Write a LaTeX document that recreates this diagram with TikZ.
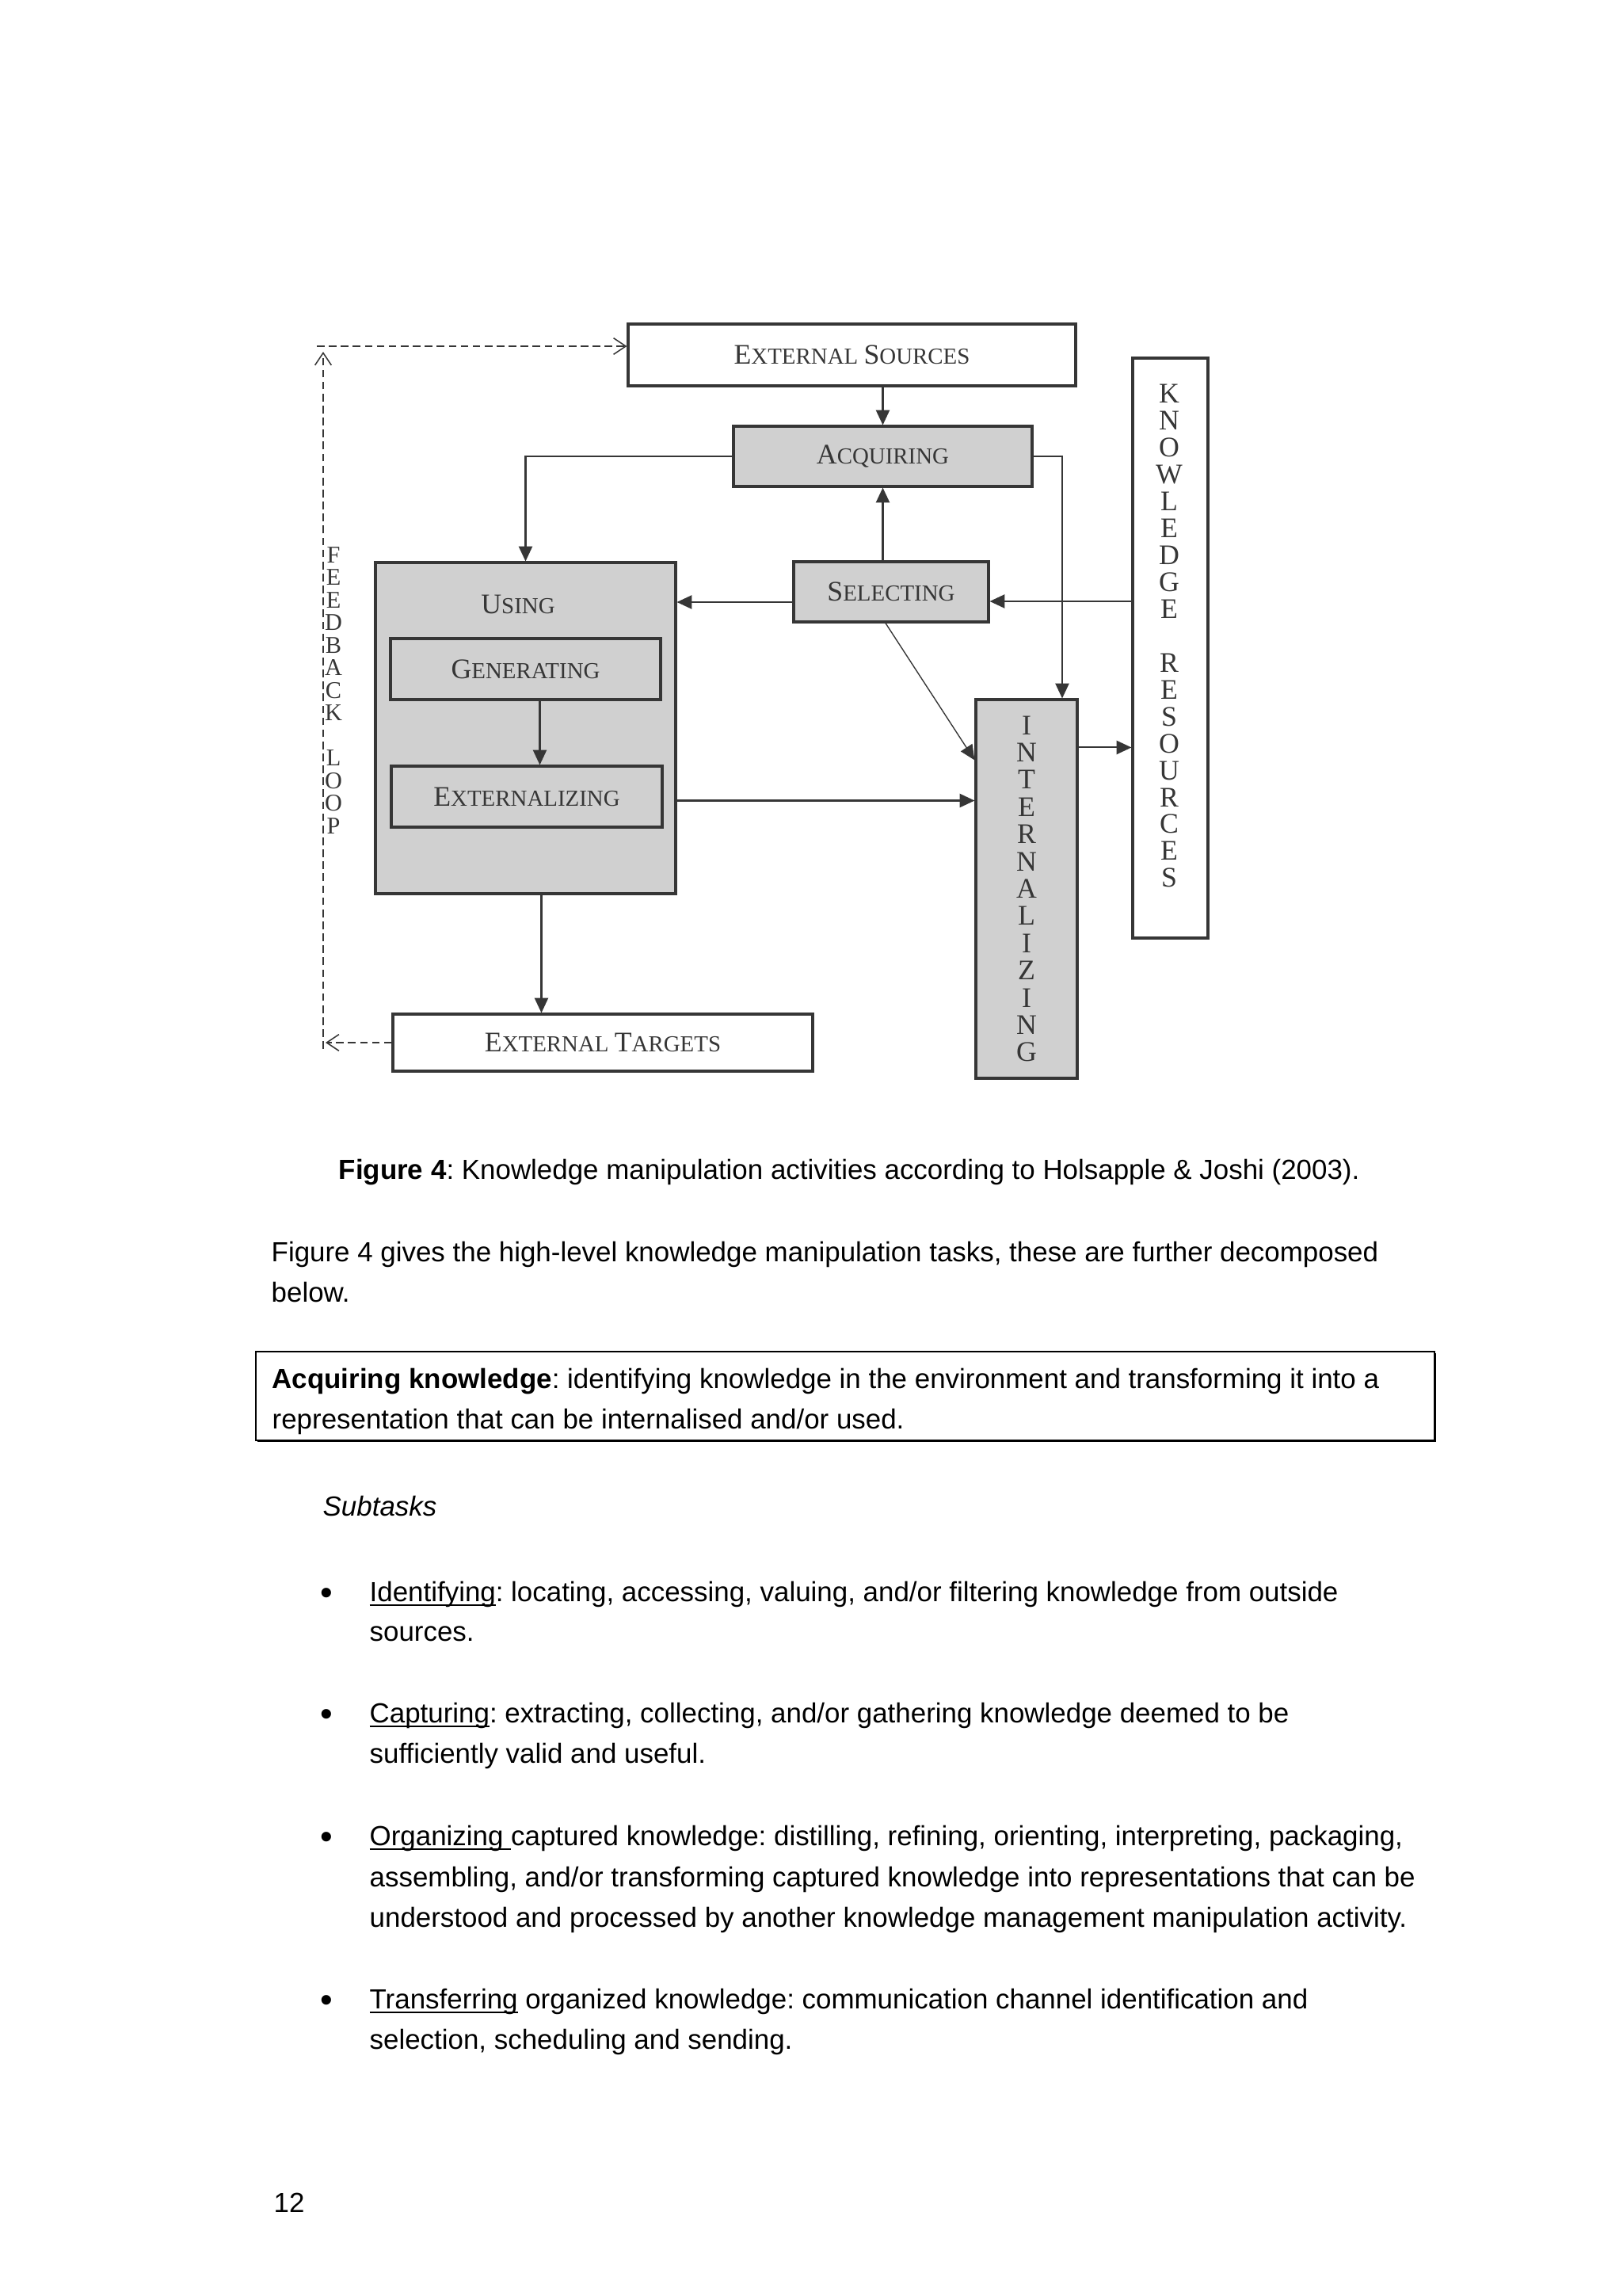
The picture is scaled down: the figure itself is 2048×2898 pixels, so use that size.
\documentclass[tikz,border=0pt]{standalone}
\usepackage{fontspec}
\setmainfont{Liberation Serif}
\newfontfamily\arial{Liberation Sans}
\usetikzlibrary{arrows.meta}
\frenchspacing
\newdimen\pxu \pxu=0.29067pt
\definecolor{ink}{HTML}{363636}
\definecolor{boxfill}{HTML}{D0D0D0}
\newcommand\SC[2]{{\fontsize{10.4}{12}\selectfont #1}{\fontsize{8.4}{10}\selectfont #2}}
\newcommand\ulx[1]{\setbox0\hbox{#1}\rlap{\rule[-1.7pt]{\wd0}{0.45pt}}\box0\relax}
\newcommand\bul{{\fontsize{13}{13}\selectfont\raisebox{-1.4pt}{•}}}
\tikzset{
 graybox/.style={draw=ink, fill=boxfill, line width=0.9pt, inner sep=0pt, text=ink, font=\fontsize{8.4}{10}\selectfont},
 whitebox/.style={draw=ink, fill=white, line width=0.9pt, inner sep=0pt, text=ink, font=\fontsize{8.4}{10}\selectfont},
 lbl/.style={inner sep=0pt, text=ink, font=\fontsize{8.4}{10}\selectfont},
 arr/.style={draw=ink, line width=0.6pt, -{Triangle[length=5.5pt,width=5pt]}},
 thinarr/.style={arr, line width=0.4pt},
 fbarr/.style={draw=ink, line width=0.45pt, dash pattern=on 2.8pt off 1.6pt, -{Straight Barb[length=4.5pt,width=6pt]}},
 body/.style={anchor=base west, inner sep=0pt, font=\arial\fontsize{10.15}{12}\selectfont, text=black},
}
\begin{document}
\begin{tikzpicture}[x=0.29067pt,y=-0.29067pt]
\fill[white] (0,0) rectangle (2048,2898);
\useasboundingbox (0,0) rectangle (2048,2898);

% ---------- diagram boxes ----------
\node[whitebox, minimum width=565\pxu, minimum height=78\pxu] (ExtSources) at (1075.5,448) {\SC{E}{XTERNAL} \SC{S}{OURCES}};
\node[graybox, minimum width=377\pxu, minimum height=76\pxu] (Acquiring) at (1114.5,576) {\SC{A}{CQUIRING}};
\node[graybox, minimum width=379\pxu, minimum height=418\pxu] (Using) at (663.5,919) {};
\node[lbl] (UsingLbl) at (654,763) {\SC{U}{SING}};
\node[graybox, minimum width=341\pxu, minimum height=77\pxu] (Generating) at (663.5,844.5) {\SC{G}{ENERATING}};
\node[graybox, minimum width=342\pxu, minimum height=77\pxu] (Externalizing) at (665,1005.5) {\SC{E}{XTERNALIZING}};
\node[graybox, minimum width=246\pxu, minimum height=76\pxu] (Selecting) at (1125,747) {\SC{S}{ELECTING}};
\node[graybox, minimum width=128\pxu, minimum height=478\pxu, align=center, font=\fontsize{10.4}{10.0}\selectfont] (Internalizing) at (1296,1122)
  {I\\N\\T\\E\\R\\N\\A\\L\\I\\Z\\I\\N\\G};
\node[whitebox, minimum width=530\pxu, minimum height=72\pxu] (ExtTargets) at (761,1316) {\SC{E}{XTERNAL} \SC{T}{ARGETS}};
\node[whitebox, minimum width=95\pxu, minimum height=732\pxu] (KR) at (1477.5,818) {};
\node[lbl, align=center, font=\fontsize{10.4}{9.88}\selectfont] (KRlbl) at (1476,802.5)
  {K\\N\\O\\W\\L\\E\\D\\G\\E\\[9.88pt]R\\E\\S\\O\\U\\R\\C\\E\\S};
\node[lbl, align=center, font=\fontsize{8.8}{8.28}\selectfont] (FBlbl) at (421,871.5)
  {F\\E\\E\\D\\B\\A\\C\\K\\[8.28pt]L\\O\\O\\P};

% ---------- helper coordinates ----------
\coordinate (selR) at ([yshift=-12\pxu]Selecting.east);
\coordinate (selL) at ([yshift=-13\pxu]Selecting.west);
\coordinate (acqR) at ([xshift=45\pxu]Internalizing.north);
\coordinate (genB) at ([xshift=18\pxu]Generating.south);
\coordinate (extR) at ([yshift=-5\pxu]Externalizing.east);
\coordinate (selB) at ([xshift=-7\pxu]Selecting.south);
\coordinate (intD) at ([yshift=-78\pxu]Internalizing.north west);
\coordinate (intR) at ([yshift=-62\pxu]Internalizing.north east);
\coordinate (useB) at ([xshift=20\pxu]Using.south);
\coordinate (fbB) at (411,1313);
\coordinate (fbLow) at (408,1324);
\coordinate (fbHigh) at (408,444);
\coordinate (fbStart) at (400,437);

% ---------- connectors ----------
\draw[arr] (ExtSources.south -| Acquiring.north) -- (Acquiring.north);
\draw[arr] (Acquiring.west) -| (Using.north);
\draw[arr] (Acquiring.east) -| (acqR);
\draw[arr] (Selecting.north -| Acquiring.south) -- (Acquiring.south);
\draw[arr] (selR -| KR.west) -- (selR);
\draw[arr] (selL) -- (selL -| Using.east);
\draw[arr] (genB) -- (genB |- Externalizing.north);
\draw[arr] (extR -| Using.east) -- (extR -| Internalizing.west);
\draw[thinarr] (selB) -- (intD);
\draw[arr] (intR) -- (intR -| KR.west);
\draw[arr] (useB) -- (useB |- ExtTargets.north);
\draw[fbarr] (ExtTargets.west) -- (ExtTargets.west -| fbB);
\draw[fbarr] (fbLow) -- (fbHigh);
\draw[fbarr] (fbStart) -- (fbStart -| ExtSources.west);

% ---------- page text ----------
\node[body] (cap) at (427,1488) {\textbf{Figure 4}: Knowledge manipulation activities according to Holsapple \& Joshi (2003).};
\node[body] (p1) at (342,1592) {Figure 4 gives the high-level knowledge manipulation tasks, these are further decomposed};
\node[body] (p2) at (342,1643) {below.};

\coordinate (frameTL) at (323,1706);
\coordinate (frameBR) at (1811,1818);
\fill[black] ([xshift=2.2\pxu,yshift=-2.2\pxu]frameTL) rectangle ([xshift=2.2\pxu,yshift=-2.2\pxu]frameBR);
\draw[black, fill=white, line width=0.5pt] (frameTL) rectangle (frameBR);
\node[body] (a1) at (343,1752) {\textbf{Acquiring knowledge}: identifying knowledge in the environment and transforming it into a};
\node[body] (a2) at (343,1803) {representation that can be internalised and/or used.};

\node[body] (sub) at (407,1913) {\textit{Subtasks}};

\node[body] (b1) at (404,2021) {\bul};
\node[body] (i1) at (466,2021) {\ulx{Identifying}: locating, accessing, valuing, and/or filtering knowledge from outside};
\node[body] (i2) at (466,2071) {sources.};
\node[body] (b2) at (404,2174) {\bul};
\node[body] (c1) at (466,2174) {\ulx{Capturing}: extracting, collecting, and/or gathering knowledge deemed to be};
\node[body] (c2) at (466,2225) {sufficiently valid and useful.};
\node[body] (b3) at (404,2329) {\bul};
\node[body] (o1) at (466,2329) {\ulx{Organizing\ }captured knowledge: distilling, refining, orienting, interpreting, packaging,};
\node[body] (o2) at (466,2381) {assembling, and/or transforming captured knowledge into representations that can be};
\node[body] (o3) at (466,2432) {understood and processed by another knowledge management manipulation activity.};
\node[body] (b4) at (404,2535) {\bul};
\node[body] (t1) at (466,2535) {\ulx{Transferring} organized knowledge: communication channel identification and};
\node[body] (t2) at (466,2586) {selection, scheduling and sending.};

\node[body] (pg) at (345,2792) {12};
\end{tikzpicture}
\end{document}
